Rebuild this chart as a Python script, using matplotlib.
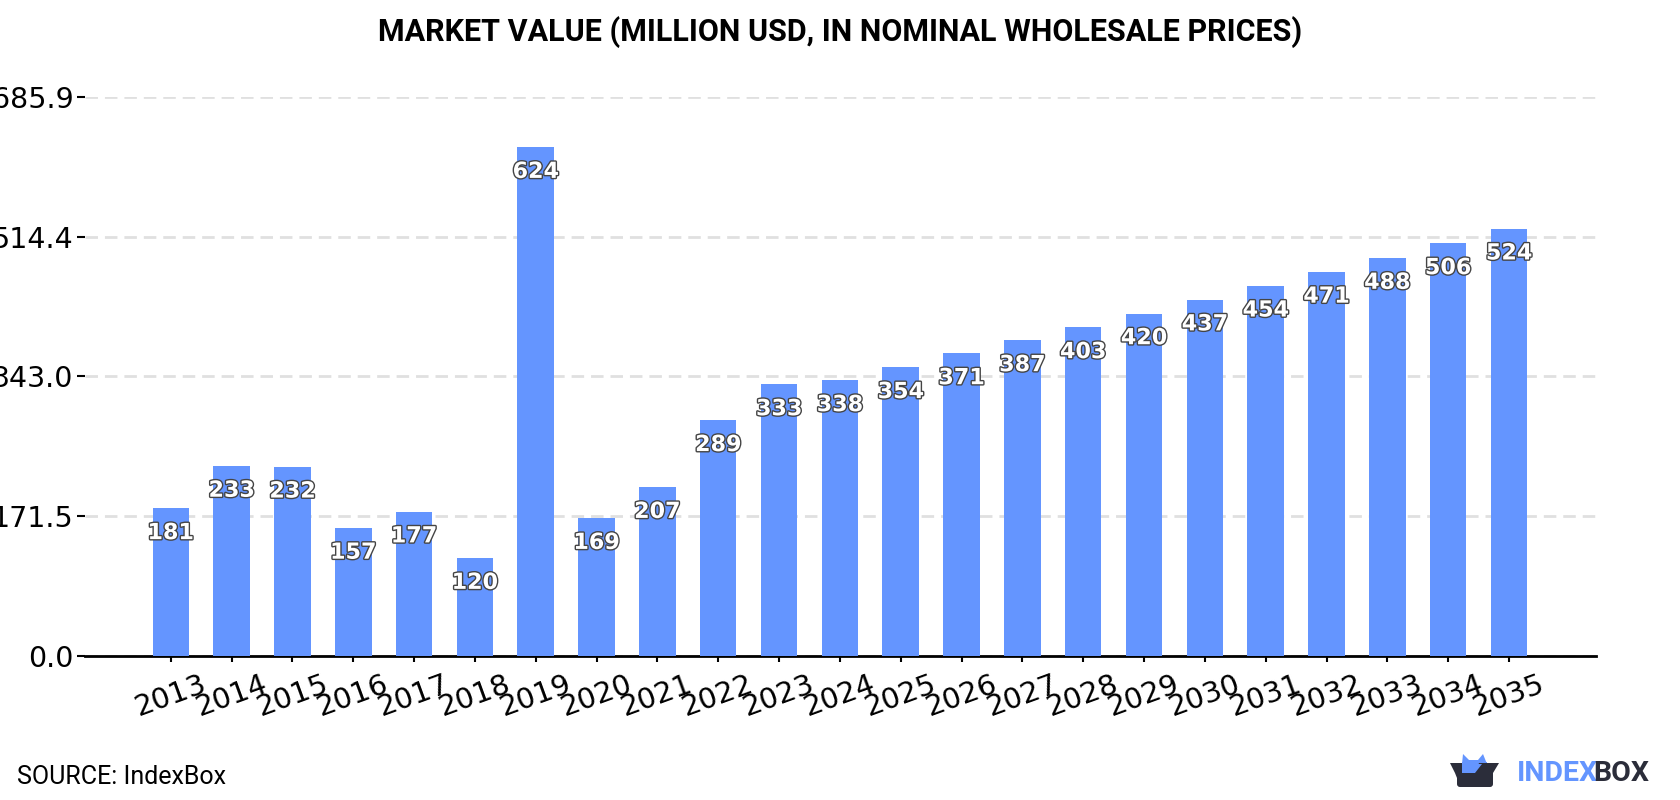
import matplotlib
matplotlib.use('Agg')
import matplotlib.pyplot as plt
import matplotlib.patheffects as pe
from matplotlib.patches import Polygon, FancyBboxPatch

years = [2013, 2014, 2015, 2016, 2017, 2018, 2019, 2020, 2021, 2022, 2023, 2024,
         2025, 2026, 2027, 2028, 2029, 2030, 2031, 2032, 2033, 2034, 2035]
values = [181, 233, 232, 157, 177, 120, 624, 169, 207, 289, 333, 338,
          354, 371, 387, 403, 420, 437, 454, 471, 488, 506, 524]
y_ticks = [0.0, 171.5, 343.0, 514.4, 685.9]

BLUE = '#6495ff'
DARK = '#2b2d3a'
W, H = 1680, 800

fig = plt.figure(figsize=(W / 100, H / 100), dpi=100, facecolor='white')
ax = fig.add_axes([85 / W, 1 - 656 / H, (1596 - 85) / W, (656 - 96.7) / H])

#=====================bars and labels=========================#
x = list(range(len(years)))
ax.bar(x, values, width=0.6, color=BLUE, zorder=3)
for xi, v in zip(x, values):
    ax.annotate(str(v), (xi, v), xytext=(0, -17.8), textcoords='offset points',
                ha='center', va='center', fontsize=16, fontweight='bold',
                family='DejaVu Sans', color='white', zorder=5,
                path_effects=[pe.withStroke(linewidth=2, foreground='#444444')])

ax.set_xlim(-1.41, 22 + 1.43)
ax.set_ylim(0, 685.9)
ax.set_yticks(y_ticks)
ax.set_yticklabels(['%.1f' % t for t in y_ticks], fontsize=20.5, family='DejaVu Sans')
ax.set_xticks(x)
ax.set_xticklabels(years, fontsize=21, rotation=20, family='DejaVu Sans')
ax.tick_params(axis='y', length=5.8, width=1.5, pad=2.5)
ax.tick_params(axis='x', length=4.3, width=1.5, pad=6)
ax.grid(axis='y', color='#e0e0e0', linestyle=(0, (4.5, 2.5)), linewidth=2, zorder=0)
for s in ['top', 'left', 'right']:
    ax.spines[s].set_visible(False)
ax.spines['bottom'].set_linewidth(2)

#=====================title and source=========================#
fig.text(0.5, 1 - 32 / H, 'MARKET VALUE (MILLION USD, IN NOMINAL WHOLESALE PRICES)',
         ha='center', va='center', fontsize=22, fontweight='bold', family='Roboto')
fig.text(17 / W, 1 - 777 / H, 'SOURCE: IndexBox', ha='left', va='center',
         fontsize=18, family='Roboto')

#=====================logo=========================#
logo = fig.add_axes([0, 0, 1, 1], facecolor='none')
logo.set_xlim(0, W)
logo.set_ylim(H, 0)
logo.axis('off')
logo.add_patch(Polygon([(1462, 764), (1463, 754), (1469, 760), (1478, 760), (1483, 754),
                        (1487, 764), (1487, 770), (1462, 773)], color=BLUE, lw=0))
logo.add_patch(FancyBboxPatch((1457, 770), 36, 17, boxstyle='round,pad=0,rounding_size=3',
                              color=DARK, lw=0))
logo.add_patch(Polygon([(1450, 763), (1462, 763), (1462, 773), (1475, 773), (1479, 763),
                        (1499, 763), (1493, 773), (1493, 778), (1457, 778), (1455, 773)],
                       color=DARK, lw=0))
logo.add_patch(Polygon([(1462, 763), (1487, 763), (1487, 762), (1462, 762)], color=BLUE, lw=0))
logo.add_patch(Polygon([(1462, 764), (1482, 764), (1475, 773), (1462, 773)], color=BLUE, lw=0))
logo.text(1517, 773.5, 'INDEX', color=BLUE, fontsize=20.5, fontweight='bold', family='Roboto',
          ha='left', va='center')
logo.text(1649, 773.5, 'BOX', color=DARK, fontsize=20.5, fontweight='bold', family='Roboto',
          ha='right', va='center')

fig.savefig('out.png', dpi=100)
